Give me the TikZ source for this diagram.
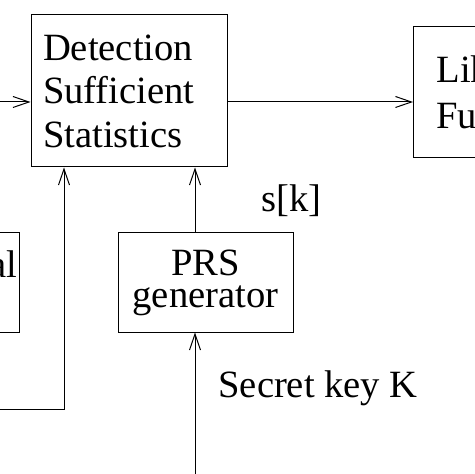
\documentclass[tikz,border=0pt]{standalone}
\usepackage{fontspec}
\setmainfont{Liberation Serif}
\usetikzlibrary{calc, positioning, arrows.meta}

\begin{document}
\begin{tikzpicture}[x=0.5pt, y=-0.5pt,
                    box/.style={draw, line width=0.5pt, inner ysep=0pt},
                    arr/.style={line width=0.5pt, -{Straight Barb[length=8pt, width=5.5pt]}},
                    lbl/.style={inner sep=0pt, font=\fontsize{19.3pt}{21.75pt}\selectfont}]

    \useasboundingbox (0,0) rectangle (474,474); % crop of the larger figure

    % blocks
    \node [box, lbl, minimum width=98pt, minimum height=76pt, text width=86pt, inner xsep=6pt, align=left]
          (detect) at (129,91) {Detection\\Sufficient\\Statistics};
    \node [box, lbl, anchor=north west, minimum width=110pt, minimum height=65.5pt, text width=87pt,
           inner xsep=11.5pt, align=left, font=\fontsize{19.3pt}{23pt}\selectfont]
          (likeli) at (413,26) {Likelihood\\Function};
    \node [box, lbl, minimum width=87.5pt, minimum height=49.5pt, align=center, font=\fontsize{19.3pt}{16pt}\selectfont]
          (prs) at (205.5,282.5) {PRS\\generator};
    \node [box, lbl, anchor=east, minimum height=49.5pt, inner xsep=1pt, align=center, font=\fontsize{19.3pt}{16pt}\selectfont]
          (percept) at (20,282.5) {Perceptual\\model};

    % free ends of the connectors
    \coordinate (in)   at (0,102);
    \coordinate (fb)   at (0,409);
    \coordinate (turn) at (64,409);
    \coordinate (key)  at (195,474);

    % connectors
    \draw [arr] (in) -- (in -| detect.west);
    \draw [arr] (detect.east |- in) -- (likeli.west |- in);
    \draw [arr] (fb) -- (turn) -- (turn |- detect.south);
    \draw [arr] (key |- prs.north) -- (key |- detect.south);
    \draw [arr] (key) -- (key |- prs.south);

    % signal labels
    \node [lbl, anchor=base west] (sk)     at (261,212) {s[k]};
    \node [lbl, anchor=base west] (secret) at (218,397) {Secret key K};

\end{tikzpicture}
\end{document}
